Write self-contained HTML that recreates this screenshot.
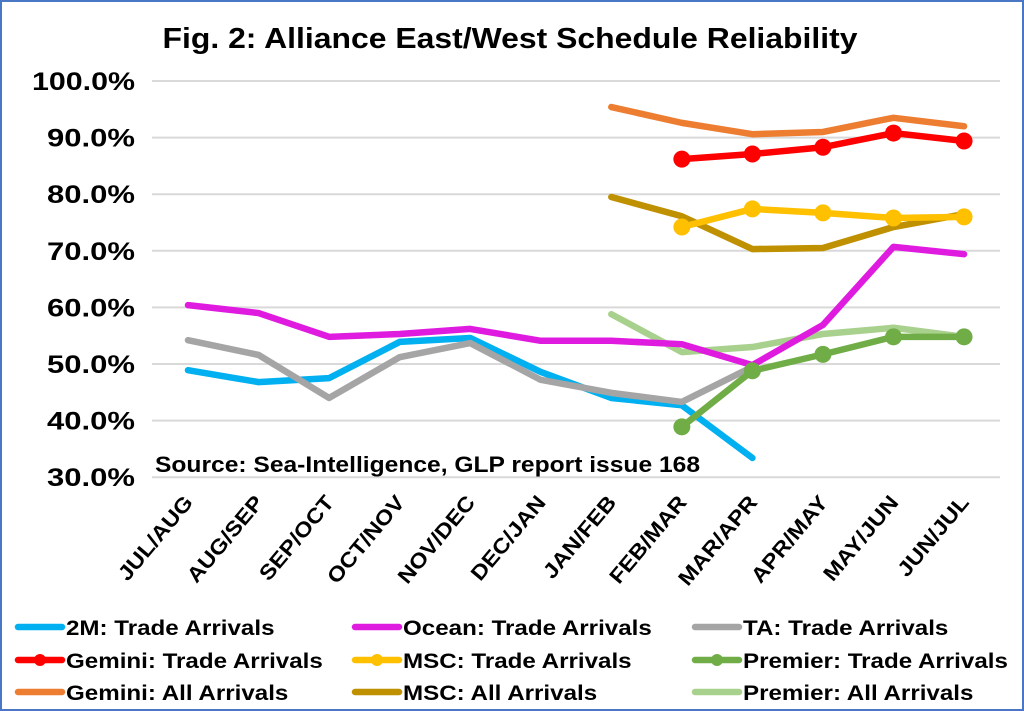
<!DOCTYPE html>
<html><head><meta charset="utf-8"><style>
body{margin:0;background:#fff}
svg{display:block;font-family:"Liberation Sans",sans-serif;font-weight:bold}
</style></head><body>
<svg id="c" width="1024" height="711">
<rect x="1" y="1" width="1022" height="709" fill="#fff" stroke="#4a76c6" stroke-width="2"/>
<text class="w" data-w="695" x="510" y="48" text-anchor="middle" font-size="29">Fig. 2: Alliance East/West Schedule Reliability</text>
<g id="grid"></g><g id="yl"></g><g id="xl"></g><g id="series"></g>
<text class="w" data-w="545" x="155" y="472" font-size="22">Source: Sea-Intelligence, GLP report issue 168</text>
<g id="legend"></g>
</svg>
<script>
const categories=["JUL/AUG","AUG/SEP","SEP/OCT","OCT/NOV","NOV/DEC","DEC/JAN","JAN/FEB","FEB/MAR","MAR/APR","APR/MAY","MAY/JUN","JUN/JUL"];
const yTicks=[30,40,50,60,70,80,90,100];
const s2M=[48.9,46.8,47.5,53.9,54.6,48.6,44.0,42.7,33.4,null,null,null];
const sOcean=[60.4,59.0,54.8,55.3,56.2,54.1,54.1,53.5,49.8,56.9,70.7,69.4];
const sTA=[54.2,51.6,44.0,51.2,53.7,47.2,44.9,43.3,49.5,null,null,null];
const sGeminiTrade=[null,null,null,null,null,null,null,86.2,87.1,88.3,90.8,89.4];
const sGeminiAll=[null,null,null,null,null,null,95.4,92.6,90.6,91.0,93.5,92.0];
const sMSCTrade=[null,null,null,null,null,null,null,74.2,77.4,76.7,75.8,76.0];
const sMSCAll=[null,null,null,null,null,null,79.5,76.1,70.3,70.5,74.2,76.5];
const sPremierTrade=[null,null,null,null,null,null,null,38.9,48.8,51.7,54.8,54.8];
const sPremierAll=[null,null,null,null,null,null,58.8,52.1,53.0,55.3,56.4,54.8];

const NS="http://www.w3.org/2000/svg";
const x=i=>188+i*70.55;
const y=v=>81+(100-v)*5.66;
function mk(t,a,p){const e=document.createElementNS(NS,t);for(const k in a)e.setAttribute(k,a[k]);p.appendChild(e);return e;}
function fit(t,w){t.setAttribute('textLength',w);t.setAttribute('lengthAdjust','spacingAndGlyphs');}
const G=document.getElementById('grid'),YL=document.getElementById('yl'),XL=document.getElementById('xl'),S=document.getElementById('series'),L=document.getElementById('legend');
yTicks.forEach(t=>{
 const l=mk('line',{x1:152,x2:1000,y1:y(t),y2:y(t),stroke:'#d9d9d9','stroke-width':2},G);
 
 
 const tx=mk('text',{x:135,y:y(t)+9,'text-anchor':'end','font-size':25},YL);
 tx.textContent=t.toFixed(1)+'%';
 
 
 fit(tx,t===100?103:88);
});
categories.forEach((c,i)=>{
 const tx=mk('text',{x:0,y:0,'text-anchor':'end','font-size':21,transform:`translate(${x(i)+6},${503}) rotate(-50)`},XL);
 tx.textContent=c;
 
 
 fit(tx,tx.getComputedTextLength()*1.12);
});
const series=[
 ["2M: Trade Arrivals",s2M,"#00b0f0",false],
 ["Ocean: Trade Arrivals",sOcean,"#e01be0",false],
 ["TA: Trade Arrivals",sTA,"#a5a5a5",false],
 ["Gemini: Trade Arrivals",sGeminiTrade,"#ff0000",true],
 ["MSC: Trade Arrivals",sMSCTrade,"#ffc000",true],
 ["Premier: Trade Arrivals",sPremierTrade,"#70ad47",true],
 ["Gemini: All Arrivals",sGeminiAll,"#ed7d31",false],
 ["MSC: All Arrivals",sMSCAll,"#bf9000",false],
 ["Premier: All Arrivals",sPremierAll,"#a9d18e",false]];
const order=[6,7,8,1,0,2,3,4,5];
order.forEach(k=>{
 const [n,d,col,mark]=series[k];
 const pts=d.map((v,i)=>v==null?null:[x(i),y(v)]).filter(p=>p);
 const g=mk('g',{},S);
 
 
 const pl=mk('polyline',{points:pts.map(p=>p.join(',')).join(' '),fill:'none',stroke:col,'stroke-width':6.5,'stroke-linejoin':'round','stroke-linecap':'round'},g);
 
 
 if(mark)pts.forEach(p=>{
  const c=mk('circle',{cx:p[0],cy:p[1],r:8.5,fill:col},g);
  
  
 });
});
series.forEach(([n,d,col,mark],k)=>{
 const cx=[18,355,695][k%3],cy=[627,660,692][Math.floor(k/3)];
 const g=mk('g',{},L);
 
 
 mk('line',{x1:cx,x2:cx+44,y1:cy,y2:cy,stroke:col,'stroke-width':6.5,'stroke-linecap':'round'},g);
 if(mark)mk('circle',{cx:cx+22,cy:cy,r:6,fill:col},g);
 const t=mk('text',{x:cx+48,y:cy+8,'font-size':21},g);
 t.textContent=n;
 fit(t,t.getComputedTextLength()*1.15);
});
document.querySelectorAll('.w').forEach(t=>fit(t,+t.dataset.w));
</script>
</body></html>
